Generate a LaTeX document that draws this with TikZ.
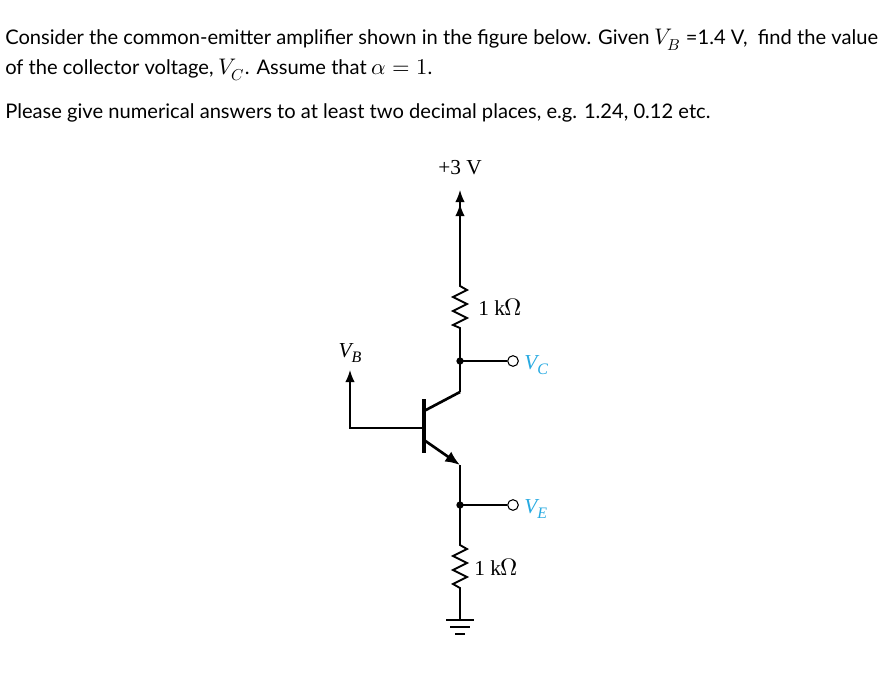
\documentclass[tikz,border=0pt]{standalone}
\usepackage{fontspec}
\setmainfont{Lato}
\usepackage{unicode-math}
\setmathfont{Latin Modern Math}[Scale=1.12]
\newfontfamily\circfont{Liberation Serif}
\usetikzlibrary{arrows.meta,calc}
\definecolor{lbl}{RGB}{40,170,225}
\newcommand{\cvar}[2]{{\itshape #1\raisebox{-3.5pt}{\fontsize{12pt}{12pt}\selectfont #2}}}
\tikzset{wire/.style={line width=1pt},thick wire/.style={line width=2pt},
 txt/.style={anchor=west,inner sep=0pt,font=\fontsize{15.1pt}{18pt}\selectfont},
 clab/.style={inner sep=0pt,font=\circfont\fontsize{16pt}{18pt}\selectfont},
 dot/.style={circle,fill,inner sep=0pt,minimum size=5.5pt},
 term/.style={circle,draw,fill=white,line width=0.8pt,inner sep=0pt,minimum size=8pt}}
\begin{document}
\begin{tikzpicture}[x=0.75pt,y=-0.75pt]
\useasboundingbox (0,0) rectangle (896,682);
\node[txt] (l1) at (5,40) {Consider the common-emitter amplifier shown in the figure below. Given $V_B$ =1.4 V,\ \ find the value};
\node[txt] (l2) at (5,70) {of the collector voltage, $V_C$. Assume that $\alpha=1$.};
\node[txt] (l3) at (5,113) {Please give numerical answers to at least two decimal places, e.g. 1.24, 0.12 etc.};
% nodes
\node[clab] (vcc) at (460,168) {+3 V};
\coordinate (top) at (460,190);
\coordinate (top2) at (460,204);
\coordinate (r1t) at (460,284);
\coordinate (r1b) at (460,332);
\node[dot] (jc) at (460,361) {};
\node[term] (tc) at (513,361) {};
\node[clab,anchor=west,text=lbl] (vcl) at (524,365) {\cvar{V}{C}};
\coordinate (cend) at (460,392);
\coordinate (cb) at (424,411);
\coordinate (eb) at (424,440);
\coordinate (eend) at (460,465);
\node[dot] (je) at (460,505) {};
\node[term] (te) at (513,505) {};
\node[clab,anchor=west,text=lbl] (vel) at (524,509) {\cvar{V}{E}};
\coordinate (r2t) at (460,543);
\coordinate (r2b) at (460,592);
\coordinate (gnd) at (460,620);
\coordinate (bl) at (424,428);
\coordinate (bc) at (350,428);
\coordinate (vbt) at (350,370);
\node[clab] (vbl) at (350,353) {\cvar{V}{B}};
% wiring
\draw[wire,-{Latex[length=9pt,width=7pt]}] (r1t) -- (top);
\draw[wire,-{Latex[length=9pt,width=7pt]}] (r1t) -- (top2);
\draw[line width=1.4pt,line join=miter] (r1t) -- ++(0,2) -- ++(7,4) -- ++(-14,7) -- ++(14,7) -- ++(-14,7) -- ++(14,7) -- ++(-14,7) -- ++(7,3) -- (r1b);
\node[clab,anchor=west] (r1l) at (478,307) {1 k$\Omega$};
\draw[wire] (r1b) -- (jc.center) -- (cend);
\draw[wire] (jc.center) -- (tc);
\draw[thick wire] (cend) -- (cb);
\draw[line width=2.5pt] (424,399) -- (424,453);
\draw[thick wire,-{Latex[length=11pt,width=9pt]}] (eb) -- (eend);
\draw[wire] (eend) -- (je.center) -- (r2t);
\draw[wire] (je.center) -- (te);
\draw[line width=1.4pt,line join=miter] (r2t) -- ++(0,2) -- ++(7,4) -- ++(-14,7) -- ++(14,7) -- ++(-14,7) -- ++(14,7) -- ++(-14,7) -- ++(7,4) -- (r2b);
\node[clab,anchor=west] (r2l) at (474,567) {1 k$\Omega$};
\draw[wire] (r2b) -- (gnd);
\draw[line width=2.2pt] (446,620) -- (474,620) (450,627) -- (470,627) (455,634) -- (465,634);
\draw[wire,-{Latex[length=9pt,width=7pt]}] (bl) -- (bc) -- (vbt);
\end{tikzpicture}
\end{document}
